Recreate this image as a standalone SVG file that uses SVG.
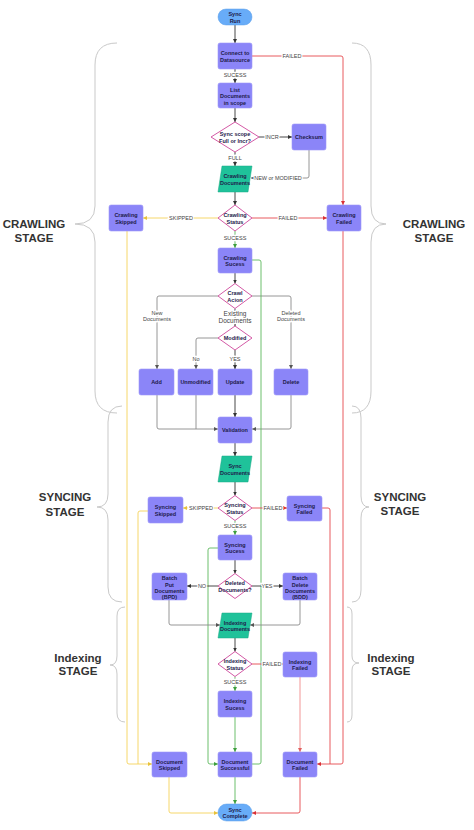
<svg xmlns="http://www.w3.org/2000/svg" width="474" height="830" viewBox="0 0 474 830">
<style>
.n{fill:#8b85f8;stroke:#9d98f9;stroke-width:0.6}
.p{fill:#1fc29a;stroke:#19a884;stroke-width:0.5}
.pill{fill:#68acf8;stroke:#5a9ee8;stroke-width:0.5}
.d{fill:#fff;stroke:#d45aa6;stroke-width:1}
.t{font-family:"Liberation Sans",Arial,sans-serif;font-size:5.5px;font-weight:bold;fill:#1e1b4b;text-anchor:middle}
.l{font-family:"Liberation Sans",Arial,sans-serif;font-size:5.5px;fill:#444;text-anchor:middle;stroke:#fff;stroke-width:2.5;paint-order:stroke}
.lb{font-family:"Liberation Sans",Arial,sans-serif;font-size:6.5px;fill:#444;text-anchor:middle;stroke:#fff;stroke-width:2.5;paint-order:stroke}
.st{font-family:"Liberation Sans",Arial,sans-serif;font-size:11.5px;font-weight:bold;fill:#333;text-anchor:middle}
.br{fill:none;stroke:#c9c9c9;stroke-width:1}
.c{fill:none;stroke-width:0.9;stroke-linejoin:round}
.k{stroke:#333;marker-end:url(#ak)}
.g{stroke:#8a8a8a;marker-end:url(#ag)}
.g0{stroke:#8a8a8a}
.y{stroke:#f5d35a;marker-end:url(#ay)}
.y0{stroke:#f5d35a}
.gr{stroke:#5cb85c;marker-end:url(#agr)}
.gr0{stroke:#5cb85c}
.r{stroke:#e5484d;marker-end:url(#ar)}
.r0{stroke:#e5484d}
.pk{stroke:#f08a8a;marker-end:url(#apk)}
</style>
<defs>
<marker id="ak" viewBox="0 0 6 6" refX="6" refY="3" markerWidth="4" markerHeight="4" markerUnits="userSpaceOnUse" orient="auto"><path d="M0,0L6,3L0,6z" fill="#333"/></marker>
<marker id="ag" viewBox="0 0 6 6" refX="6" refY="3" markerWidth="4" markerHeight="4" markerUnits="userSpaceOnUse" orient="auto"><path d="M0,0L6,3L0,6z" fill="#555"/></marker>
<marker id="ay" viewBox="0 0 6 6" refX="6" refY="3" markerWidth="4" markerHeight="4" markerUnits="userSpaceOnUse" orient="auto"><path d="M0,0L6,3L0,6z" fill="#e8c23a"/></marker>
<marker id="agr" viewBox="0 0 6 6" refX="6" refY="3" markerWidth="4" markerHeight="4" markerUnits="userSpaceOnUse" orient="auto"><path d="M0,0L6,3L0,6z" fill="#3e9e3e"/></marker>
<marker id="ar" viewBox="0 0 6 6" refX="6" refY="3" markerWidth="4" markerHeight="4" markerUnits="userSpaceOnUse" orient="auto"><path d="M0,0L6,3L0,6z" fill="#d93036"/></marker>
<marker id="apk" viewBox="0 0 6 6" refX="6" refY="3" markerWidth="4" markerHeight="4" markerUnits="userSpaceOnUse" orient="auto"><path d="M0,0L6,3L0,6z" fill="#e06060"/></marker>
</defs>
<rect width="474" height="830" fill="#fff"/>

<g id="braces">
<path class="br" d="M117,43 Q95,43 95,65 L95,206 Q95,224 75,224 Q95,224 95,242 L95,391 Q95,413 117,413"/>
<path class="br" d="M352,43 Q371,43 371,65 L371,206 Q371,224 386,224 Q371,224 371,242 L371,391 Q371,413 352,413"/>
<path class="br" d="M122,406 Q108,406 108,422 L108,494 Q108,507 97,507 Q108,507 108,520 L108,587 Q108,602 122,602"/>
<path class="br" d="M352,406 Q361,406 361,418 L361,496 Q361,507 369,507 Q361,507 361,518 L361,590 Q361,602 352,602"/>
<path class="br" d="M125,607 Q117,607 117,616 L117,656 Q117,665 110,665 Q117,665 117,674 L117,713 Q117,722 125,722"/>
<path class="br" d="M347,607 Q352,607 352,614 L352,656 Q352,663 359,663 Q352,663 352,670 L352,715 Q352,722 347,722"/>
</g>
<g id="stage-labels">
<text class="st" x="34" y="228">CRAWLING</text><text class="st" x="34" y="242">STAGE</text>
<text class="st" x="434" y="228">CRAWLING</text><text class="st" x="434" y="242">STAGE</text>
<text class="st" x="65" y="501">SYNCING</text><text class="st" x="65" y="516">STAGE</text>
<text class="st" x="400" y="501">SYNCING</text><text class="st" x="400" y="515">STAGE</text>
<text class="st" x="78" y="662">Indexing</text><text class="st" x="78" y="675">STAGE</text>
<text class="st" x="391" y="662">Indexing</text><text class="st" x="391" y="675">STAGE</text>
</g>

<g id="connectors">
<path class="c k" d="M235,25V43"/>
<path class="c k" d="M235,69V83"/>
<path class="c k" d="M235,108V122"/>
<path class="c k" d="M259,137H292"/>
<path class="c k" d="M235,152V166"/>
<path class="c g" d="M309,150V176Q309,178 307,178H251"/>
<path class="c r" d="M252,56H341Q343,56 343,58V205"/>
<path class="c k" d="M235,192V205"/>
<path class="c y" d="M218,218H143"/>
<path class="c r" d="M252,218H327"/>
<path class="c gr" d="M235,231V248"/>
<path class="c k" d="M235,273V283.5"/>
<path class="c g" d="M218,296H159Q157,296 157,298V369"/>
<path class="c k" d="M235,308.5V326"/>
<path class="c g" d="M252,296H289Q291,296 291,298V369"/>
<path class="c g" d="M218,338H198Q196,338 196,340V369"/>
<path class="c k" d="M235,350V369"/>
<path class="c g0" d="M157,395V427Q157,429 159,429H196"/>
<path class="c g" d="M196,395V429H218"/>
<path class="c k" d="M235,395V417"/>
<path class="c g" d="M291,395V427Q291,429 289,429H252"/>
<path class="c k" d="M235,443V456"/>
<path class="c k" d="M235,482V495.5"/>
<path class="c y0" d="M127,231V762Q127,764 129,764H138"/>
<path class="c r0" d="M343,231V762Q343,764 341,764H330"/>
<path class="c gr0" d="M252,260H259Q261,260 261,262V762Q261,764 259,764H252"/>
<path class="c y" d="M218,508H183"/>
<path class="c r" d="M252,508H287"/>
<path class="c gr" d="M235,520.5V535"/>
<path class="c y" d="M148,511H140Q138,511 138,513V764H152"/>
<path class="c r" d="M322,508H328Q330,508 330,510V764H317"/>
<path class="c gr" d="M218,548H210Q208,548 208,550V762Q208,764 210,764H218"/>
<path class="c k" d="M235,560V573.5"/>
<path class="c k" d="M218,586H187"/>
<path class="c k" d="M252,586H283"/>
<path class="c g" d="M169,600V623Q169,625 171,625H220"/>
<path class="c g" d="M300,600V623Q300,625 298,625H250"/>
<path class="c k" d="M235,638V651.5"/>
<path class="c r" d="M252,664H283"/>
<path class="c gr" d="M235,676.5V691"/>
<path class="c gr" d="M235,717V752"/>
<path class="c pk" d="M300,677V752"/>
<path class="c y" d="M169,777V811Q169,813 171,813H218"/>
<path class="c gr" d="M235,777V804"/>
<path class="c r" d="M300,777V811Q300,813 298,813H252"/>
</g>
<g id="connector-labels">
<text class="l" x="235" y="77">SUCESS</text>
<text class="l" x="272" y="139">INCR</text>
<text class="l" x="235" y="160">FULL</text>
<text class="l" x="278" y="180">NEW or MODIFIED</text>
<text class="l" x="292" y="58">FAILED</text>
<text class="l" x="181" y="220">SKIPPED</text>
<text class="l" x="288" y="220">FAILED</text>
<text class="l" x="235" y="240">SUCESS</text>
<text class="l" x="157" y="315">New</text><text class="l" x="157" y="321">Documents</text>
<text class="lb" x="235" y="316">Existing</text><text class="lb" x="235" y="323">Documents</text>
<text class="l" x="291" y="315">Deleted</text><text class="l" x="291" y="321">Documents</text>
<text class="l" x="196" y="361">No</text>
<text class="l" x="235" y="361">YES</text>
<text class="l" x="201" y="510">SKIPPED</text>
<text class="l" x="273" y="510">FAILED</text>
<text class="l" x="235" y="528">SUCESS</text>
<text class="l" x="202" y="588">NO</text>
<text class="l" x="267" y="588">YES</text>
<text class="l" x="272" y="666">FAILED</text>
<text class="l" x="235" y="684">SUCESS</text>
</g>

<g id="sync-run"><rect class="pill" x="218" y="9" width="34" height="16" rx="8"/><text class="t" x="235" y="16">Sync</text><text class="t" x="235" y="22.5">Run</text></g>
<g id="connect"><rect class="n" x="218" y="43" width="34" height="26" rx="2"/><text class="t" x="235" y="55">Connect to</text><text class="t" x="235" y="61.5">Datasource</text></g>
<g id="list-docs"><rect class="n" x="218" y="83" width="34" height="25" rx="2"/><text class="t" x="235" y="91.5">List</text><text class="t" x="235" y="98">Documents</text><text class="t" x="235" y="104.5">in scope</text></g>
<g id="sync-scope"><path class="d" d="M235,122L259,137L235,152L211,137Z"/><text class="t" x="235" y="136">Sync scope</text><text class="t" x="235" y="142.5">Full or Incr?</text></g>
<g id="checksum"><rect class="n" x="292" y="124" width="34" height="26" rx="2"/><text class="t" x="309" y="139">Checksum</text></g>
<g id="crawling-docs"><path class="p" d="M222,166H252L248,192H218Z"/><text class="t" x="235" y="178">Crawling</text><text class="t" x="235" y="184.5">Documents</text></g>
<g id="crawling-status"><path class="d" d="M235,205L252,218L235,231L218,218Z"/><text class="t" x="235" y="217">Crawling</text><text class="t" x="235" y="223.5">Status</text></g>
<g id="crawling-skipped"><rect class="n" x="109" y="205" width="34" height="26" rx="2"/><text class="t" x="126" y="217">Crawling</text><text class="t" x="126" y="223.5">Skipped</text></g>
<g id="crawling-failed"><rect class="n" x="327" y="205" width="34" height="26" rx="2"/><text class="t" x="344" y="217">Crawling</text><text class="t" x="344" y="223.5">Failed</text></g>
<g id="crawling-sucess"><rect class="n" x="218" y="248" width="34" height="25" rx="2"/><text class="t" x="235" y="259.5">Crawling</text><text class="t" x="235" y="266">Sucess</text></g>
<g id="crawl-acion"><path class="d" d="M235,283.5L252,296L235,308.5L218,296Z"/><text class="t" x="235" y="295">Crawl</text><text class="t" x="235" y="301.5">Acion</text></g>
<g id="modified"><path class="d" d="M235,326L252,338L235,350L218,338Z"/><text class="t" x="235" y="340">Modified</text></g>
<g id="add"><rect class="n" x="139" y="369" width="35" height="26" rx="2"/><text class="t" x="156.5" y="384">Add</text></g>
<g id="unmodified"><rect class="n" x="178" y="369" width="35" height="26" rx="2"/><text class="t" x="195.5" y="384">Unmodified</text></g>
<g id="update"><rect class="n" x="218" y="369" width="34" height="26" rx="2"/><text class="t" x="235" y="384">Update</text></g>
<g id="delete"><rect class="n" x="274" y="369" width="34" height="26" rx="2"/><text class="t" x="291" y="384">Delete</text></g>
<g id="validation"><rect class="n" x="218" y="417" width="34" height="26" rx="2"/><text class="t" x="235" y="432">Validation</text></g>
<g id="sync-docs"><path class="p" d="M222,456H252L248,482H218Z"/><text class="t" x="235" y="468">Sync</text><text class="t" x="235" y="474.5">Documents</text></g>
<g id="syncing-status"><path class="d" d="M235,495.5L252,508L235,520.5L218,508Z"/><text class="t" x="235" y="507">Syncing</text><text class="t" x="235" y="513.5">Status</text></g>
<g id="syncing-skipped"><rect class="n" x="148" y="497" width="35" height="26" rx="2"/><text class="t" x="165.5" y="509">Syncing</text><text class="t" x="165.5" y="515.5">Skipped</text></g>
<g id="syncing-failed"><rect class="n" x="287" y="496" width="35" height="25" rx="2"/><text class="t" x="304.5" y="507.5">Syncing</text><text class="t" x="304.5" y="514">Failed</text></g>
<g id="syncing-sucess"><rect class="n" x="218" y="535" width="34" height="25" rx="2"/><text class="t" x="235" y="546.5">Syncing</text><text class="t" x="235" y="553">Sucess</text></g>
<g id="deleted-docs"><path class="d" d="M235,573.5L252,586L235,598.5L218,586Z"/><text class="t" x="235" y="585">Deleted</text><text class="t" x="235" y="591.5">Documents?</text></g>
<g id="bpd"><rect class="n" x="152" y="573" width="35" height="27" rx="2"/><text class="t" x="169.5" y="580">Batch</text><text class="t" x="169.5" y="586.5">Put</text><text class="t" x="169.5" y="593">Documents</text><text class="t" x="169.5" y="599">(BPD)</text></g>
<g id="bdd"><rect class="n" x="283" y="573" width="34" height="27" rx="2"/><text class="t" x="300" y="580">Batch</text><text class="t" x="300" y="586.5">Delete</text><text class="t" x="300" y="593">Documents</text><text class="t" x="300" y="599">(BDD)</text></g>
<g id="indexing-docs"><path class="p" d="M222,613H252L248,638H218Z"/><text class="t" x="235" y="624.5">Indexing</text><text class="t" x="235" y="631">Documents</text></g>
<g id="indexing-status"><path class="d" d="M235,651.5L252,664L235,676.5L218,664Z"/><text class="t" x="235" y="663">Indexing</text><text class="t" x="235" y="669.5">Status</text></g>
<g id="indexing-failed"><rect class="n" x="283" y="652" width="34" height="25" rx="2"/><text class="t" x="300" y="663.5">Indexing</text><text class="t" x="300" y="670">Failed</text></g>
<g id="indexing-sucess"><rect class="n" x="218" y="691" width="34" height="26" rx="2"/><text class="t" x="235" y="703">Indexing</text><text class="t" x="235" y="709.5">Sucess</text></g>
<g id="doc-skipped"><rect class="n" x="152" y="752" width="35" height="25" rx="2"/><text class="t" x="169.5" y="763.5">Document</text><text class="t" x="169.5" y="770">Skipped</text></g>
<g id="doc-successful"><rect class="n" x="218" y="752" width="34" height="25" rx="2"/><text class="t" x="235" y="763.5">Document</text><text class="t" x="235" y="770">Successful</text></g>
<g id="doc-failed"><rect class="n" x="283" y="752" width="34" height="25" rx="2"/><text class="t" x="300" y="763.5">Document</text><text class="t" x="300" y="770">Failed</text></g>
<g id="sync-complete"><rect class="pill" x="218" y="804" width="34" height="17" rx="8.5"/><text class="t" x="235" y="811.5">Sync</text><text class="t" x="235" y="818">Complete</text></g>
</svg>
